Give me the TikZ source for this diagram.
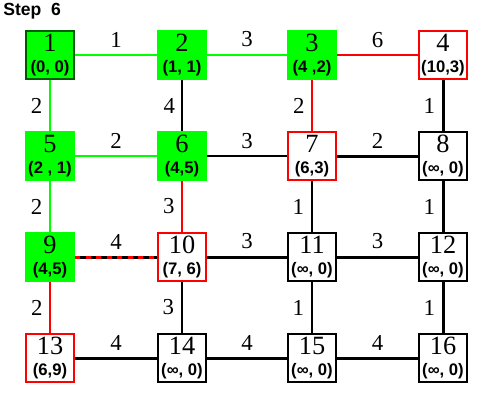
\documentclass[tikz,border=0pt]{standalone}
\usepackage{fontspec}
\setmainfont{Liberation Serif}
\newfontfamily\pairfont{Liberation Sans}
\usetikzlibrary{positioning}
\definecolor{vgreen}{RGB}{0,255,0}
\definecolor{dgreen}{RGB}{0,90,0}

\begin{document}
\begin{tikzpicture}[x=0.02cm, y=-0.02cm,
  cell/.style={minimum size=0.96cm, inner sep=0pt, line width=1.1pt, align=center},
  done/.style={cell, fill=vgreen, draw=vgreen},
  start/.style={cell, fill=vgreen, draw=dgreen},
  open/.style={cell, fill=white, draw=red},
  fresh/.style={cell, fill=white, draw=black},
  tree/.style={vgreen, line width=1.5pt},
  cand/.style={red, line width=1.1pt},
  heavy/.style={black, line width=1.7pt},
  light/.style={black, line width=0.6pt},
  wt/.style={inner sep=0pt, text=black, font=\fontsize{13}{13}\selectfont}]
\useasboundingbox (0,0) rectangle (500,400);

% grid nodes: name / x / y / (dist,pred) / state
\foreach \n/\x/\y/\d/\s in {1/50/55/{(0, 0)}/start, 2/182/55/{(1, 1)}/done,
    3/312/55/{(4 ,2)}/done, 4/443/55/{(10,3)}/open,
    5/50/156/{(2 , 1)}/done, 6/182/156/{(4,5)}/done,
    7/312/156/{(6,3)}/open, 8/443/156/{(∞, 0)}/fresh,
    9/50/257/{(4,5)}/done, 10/182/257/{(7, 6)}/open,
    11/312/257/{(∞, 0)}/fresh, 12/443/257/{(∞, 0)}/fresh,
    13/50/358/{(6,9)}/open, 14/182/358/{(∞, 0)}/fresh,
    15/312/358/{(∞, 0)}/fresh, 16/443/358/{(∞, 0)}/fresh} {
  \node[\s] (v\n) at (\x,\y) {{\fontsize{15}{15}\selectfont\n}\\[0pt]
    {\pairfont\bfseries\fontsize{9.5}{10}\selectfont\d}};
}

% edges: from / to / weight / style / label side
\foreach \a/\b/\w/\s/\p in {1/2/1/tree/above, 2/3/3/tree/above, 3/4/6/cand/above,
    5/6/2/tree/above, 6/7/3/light/above, 7/8/2/heavy/above,
    10/11/3/heavy/above, 11/12/3/heavy/above,
    13/14/4/heavy/above, 14/15/4/heavy/above, 15/16/4/heavy/above,
    1/5/2/tree/left, 2/6/4/light/left, 3/7/2/cand/left, 4/8/1/heavy/left,
    5/9/2/tree/left, 6/10/3/cand/left, 7/11/1/heavy/left, 8/12/1/heavy/left,
    9/13/2/cand/left, 10/14/3/heavy/left, 11/15/1/heavy/left, 12/16/1/heavy/left} {
  \draw[\s] (v\a) -- node[wt, \p=0.13cm] (w\a-\b) {\w} (v\b);
}

% edge being relaxed
\draw[heavy] (v9) -- node[wt, above=0.13cm] (w9-10) {4} (v10);
\draw[red, line width=1.7pt, dash pattern=on 3pt off 3pt] (v9) -- (v10);

\node[anchor=north west, inner sep=0pt, font=\pairfont\bfseries\fontsize{10}{10}\selectfont]
  (title) at (3,3) {Step\ \ 6};
\end{tikzpicture}
\end{document}
